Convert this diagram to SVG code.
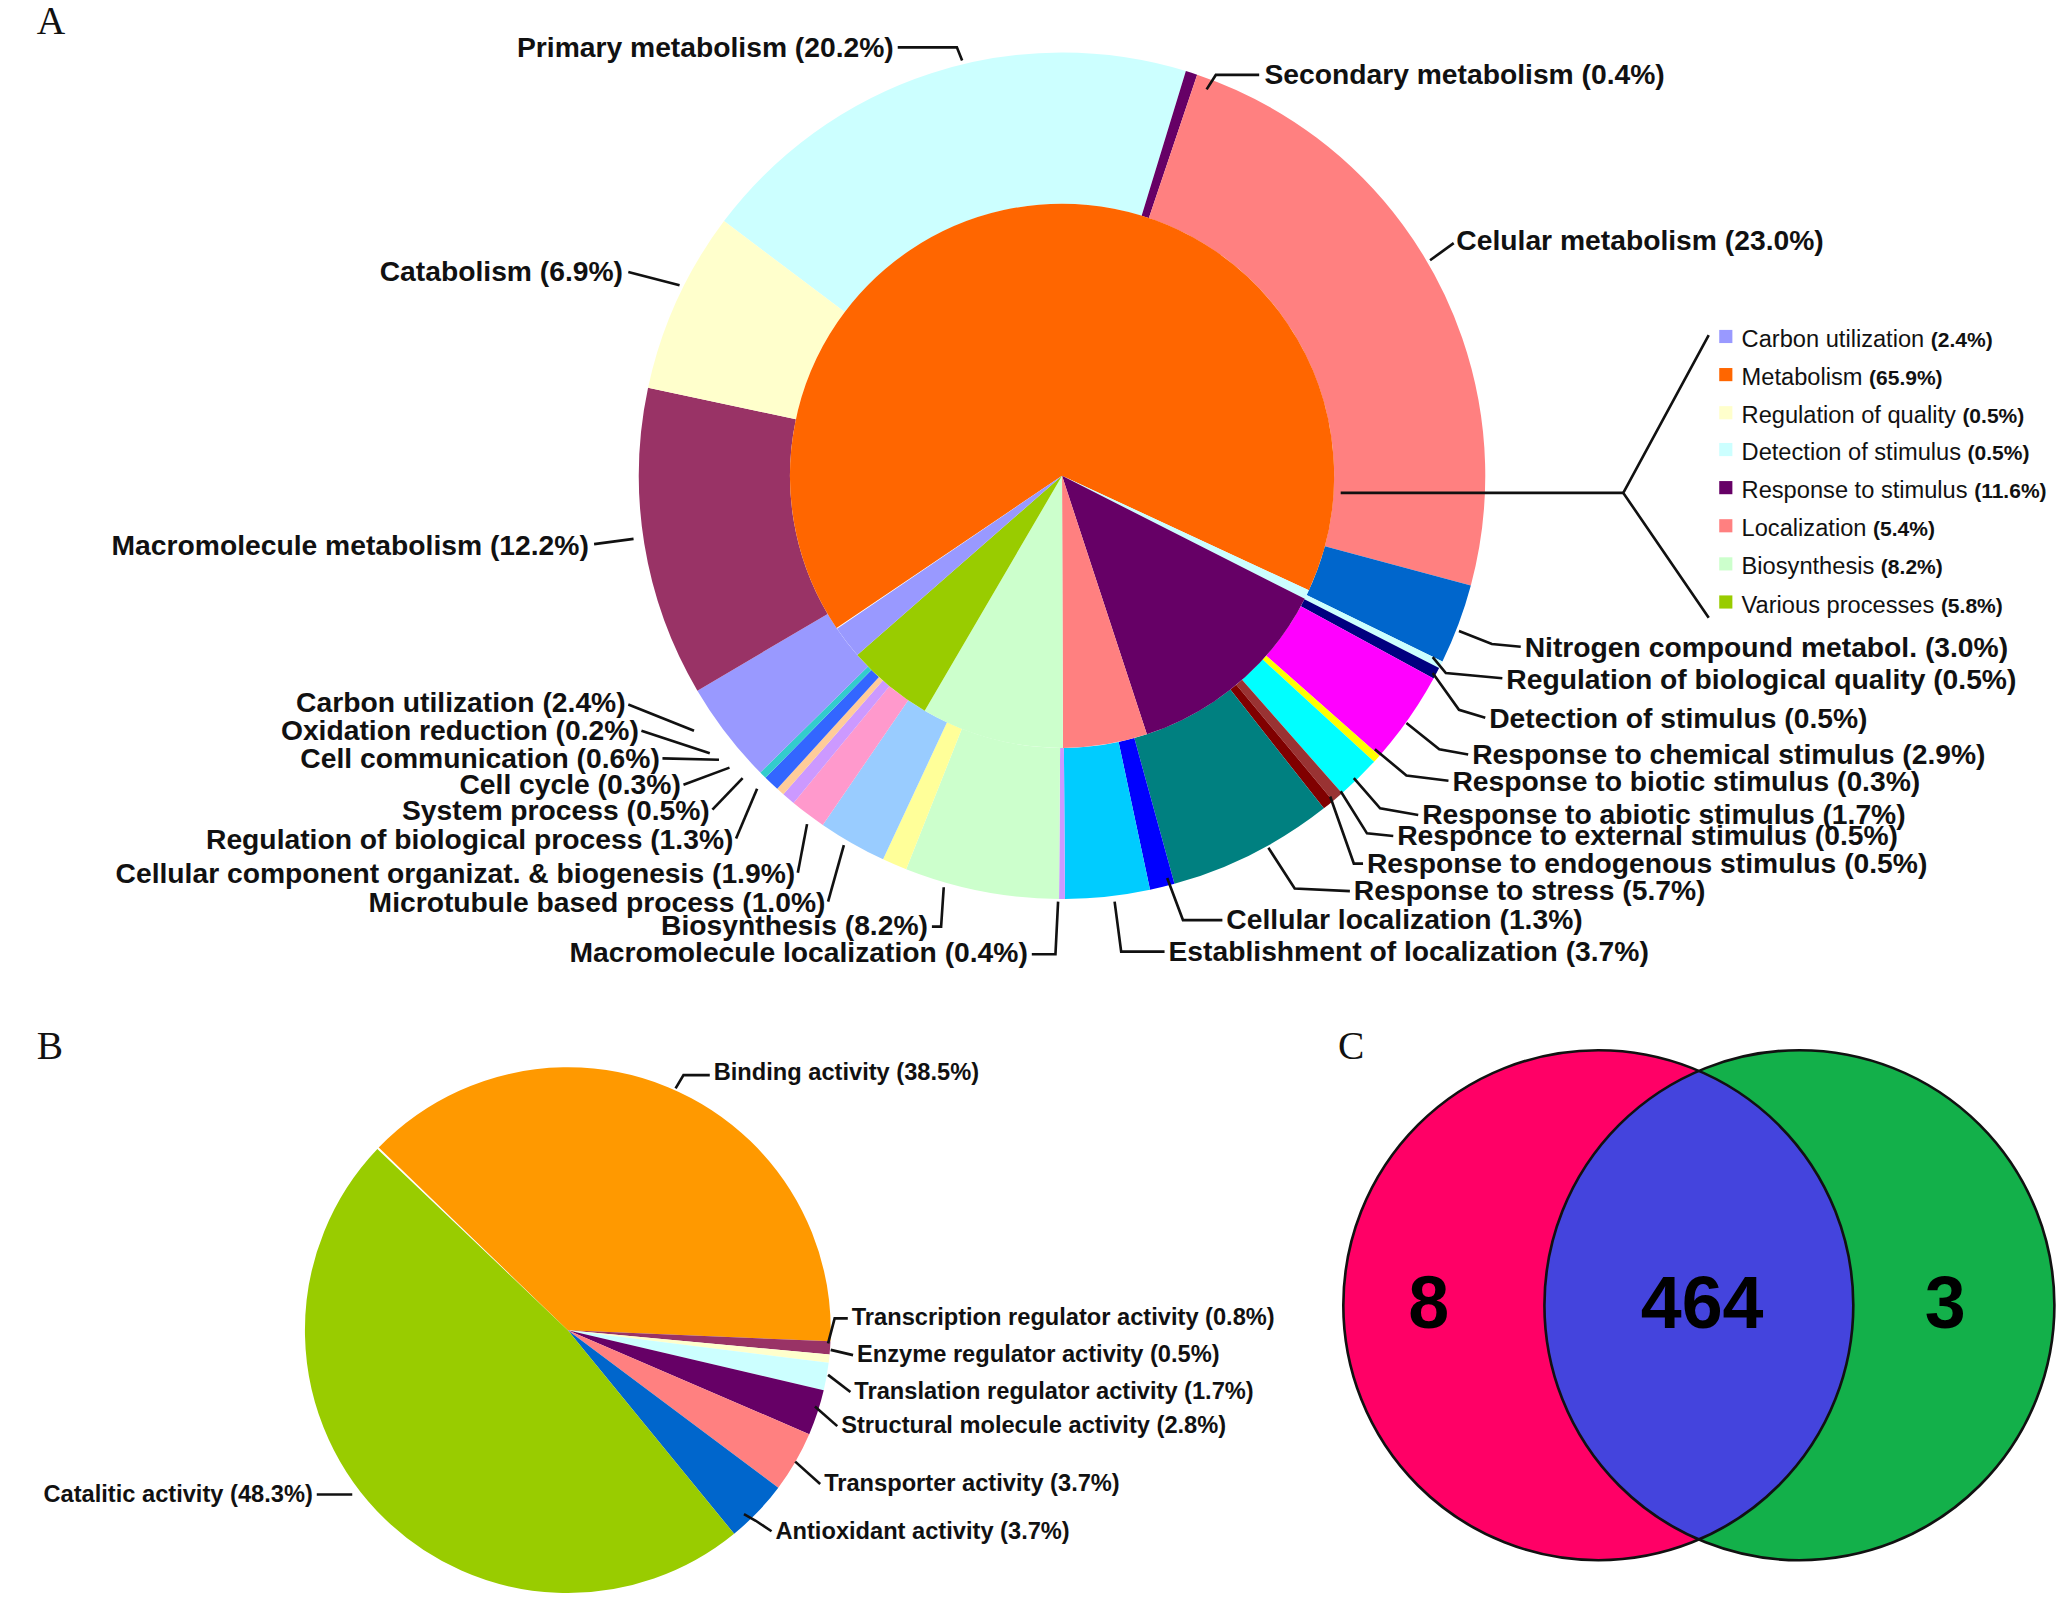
<svg xmlns="http://www.w3.org/2000/svg" width="2061" height="1598" viewBox="0 0 2061 1598">
<style>
.lb{font-family:"Liberation Sans",Arial,sans-serif;font-weight:bold;font-size:21.5px;fill:#111}
.lbb{font-family:"Liberation Sans",Arial,sans-serif;font-weight:bold;font-size:18px;fill:#111}
.lg{font-family:"Liberation Sans",Arial,sans-serif;font-size:18px;fill:#111}
.pc{font-weight:bold;font-size:16px}
.pl{font-family:"Liberation Serif","Times New Roman",serif;font-size:30px;fill:#111}
.vn{font-family:"Liberation Sans",Arial,sans-serif;font-weight:bold;font-size:56px;fill:#000}
.ld{fill:none;stroke:#111;stroke-width:2}
.ring{fill:none;stroke-width:115}
.inn{fill:none;stroke-width:207}
.pb{fill:none;stroke-width:200}
</style>
<rect width="2061" height="1598" fill="#fff"/>
<g transform="scale(1.3144)">
<text class="pl" x="28" y="26">A</text>
<text class="pl" x="28" y="806">B</text>
<text class="pl" x="1018" y="806">C</text>
<g id="outer-ring" transform="rotate(217 808 362)">
<circle class="ring" cx="808" cy="362" r="264.5" pathLength="360" stroke="#ccffff" stroke-dasharray="70 360" stroke-dashoffset="0"/>
<circle class="ring" cx="808" cy="362" r="264.5" pathLength="360" stroke="#660066" stroke-dasharray="1.6 360" stroke-dashoffset="-70"/>
<circle class="ring" cx="808" cy="362" r="264.5" pathLength="360" stroke="#ff8080" stroke-dasharray="86.4 360" stroke-dashoffset="-71.6"/>
<circle class="ring" cx="808" cy="362" r="264.5" pathLength="360" stroke="#0066cc" stroke-dasharray="11 360" stroke-dashoffset="-158"/>
<circle class="ring" cx="808" cy="362" r="264.5" pathLength="360" stroke="#ccffff" stroke-dasharray="1 360" stroke-dashoffset="-169"/>
<circle class="ring" cx="808" cy="362" r="264.5" pathLength="360" stroke="#000080" stroke-dasharray="1.6 360" stroke-dashoffset="-170"/>
<circle class="ring" cx="808" cy="362" r="264.5" pathLength="360" stroke="#ff00ff" stroke-dasharray="12.8 360" stroke-dashoffset="-171.6"/>
<circle class="ring" cx="808" cy="362" r="264.5" pathLength="360" stroke="#ffff00" stroke-dasharray="1.1 360" stroke-dashoffset="-184.4"/>
<circle class="ring" cx="808" cy="362" r="264.5" pathLength="360" stroke="#00ffff" stroke-dasharray="6.1 360" stroke-dashoffset="-185.5"/>
<circle class="ring" cx="808" cy="362" r="264.5" pathLength="360" stroke="#993333" stroke-dasharray="1.6 360" stroke-dashoffset="-191.6"/>
<circle class="ring" cx="808" cy="362" r="264.5" pathLength="360" stroke="#800000" stroke-dasharray="1.6 360" stroke-dashoffset="-193.2"/>
<circle class="ring" cx="808" cy="362" r="264.5" pathLength="360" stroke="#008080" stroke-dasharray="22.8 360" stroke-dashoffset="-194.8"/>
<circle class="ring" cx="808" cy="362" r="264.5" pathLength="360" stroke="#0000ff" stroke-dasharray="3.4 360" stroke-dashoffset="-217.6"/>
<circle class="ring" cx="808" cy="362" r="264.5" pathLength="360" stroke="#00ccff" stroke-dasharray="11.6 360" stroke-dashoffset="-221"/>
<circle class="ring" cx="808" cy="362" r="264.5" pathLength="360" stroke="#cc99ff" stroke-dasharray="0.8 360" stroke-dashoffset="-232.6"/>
<circle class="ring" cx="808" cy="362" r="264.5" pathLength="360" stroke="#ccffcc" stroke-dasharray="21.2 360" stroke-dashoffset="-233.4"/>
<circle class="ring" cx="808" cy="362" r="264.5" pathLength="360" stroke="#ffff99" stroke-dasharray="3.4 360" stroke-dashoffset="-254.6"/>
<circle class="ring" cx="808" cy="362" r="264.5" pathLength="360" stroke="#99ccff" stroke-dasharray="9.4 360" stroke-dashoffset="-258"/>
<circle class="ring" cx="808" cy="362" r="264.5" pathLength="360" stroke="#ff99cc" stroke-dasharray="5 360" stroke-dashoffset="-267.4"/>
<circle class="ring" cx="808" cy="362" r="264.5" pathLength="360" stroke="#cc99ff" stroke-dasharray="1.8 360" stroke-dashoffset="-272.4"/>
<circle class="ring" cx="808" cy="362" r="264.5" pathLength="360" stroke="#ffcc99" stroke-dasharray="1.1 360" stroke-dashoffset="-274.2"/>
<circle class="ring" cx="808" cy="362" r="264.5" pathLength="360" stroke="#3366ff" stroke-dasharray="2.2 360" stroke-dashoffset="-275.3"/>
<circle class="ring" cx="808" cy="362" r="264.5" pathLength="360" stroke="#33cccc" stroke-dasharray="1 360" stroke-dashoffset="-277.5"/>
<circle class="ring" cx="808" cy="362" r="264.5" pathLength="360" stroke="#9999ff" stroke-dasharray="14 360" stroke-dashoffset="-278.5"/>
<circle class="ring" cx="808" cy="362" r="264.5" pathLength="360" stroke="#993366" stroke-dasharray="42.5 360" stroke-dashoffset="-292.5"/>
<circle class="ring" cx="808" cy="362" r="264.5" pathLength="360" stroke="#ffffcc" stroke-dasharray="25 360" stroke-dashoffset="-335"/>
</g>
<g id="inner-pie" transform="rotate(146 808 362)">
<circle class="inn" cx="808" cy="362" r="103.5" pathLength="360" stroke="#ff6600" stroke-dasharray="239 360" stroke-dashoffset="0"/>
<circle class="inn" cx="808" cy="362" r="103.5" pathLength="360" stroke="#ccffff" stroke-dasharray="2 360" stroke-dashoffset="-239"/>
<circle class="inn" cx="808" cy="362" r="103.5" pathLength="360" stroke="#660066" stroke-dasharray="45 360" stroke-dashoffset="-241"/>
<circle class="inn" cx="808" cy="362" r="103.5" pathLength="360" stroke="#ff8080" stroke-dasharray="18 360" stroke-dashoffset="-286"/>
<circle class="inn" cx="808" cy="362" r="103.5" pathLength="360" stroke="#ccffcc" stroke-dasharray="30.5 360" stroke-dashoffset="-304"/>
<circle class="inn" cx="808" cy="362" r="103.5" pathLength="360" stroke="#99cc00" stroke-dasharray="18.5 360" stroke-dashoffset="-334.5"/>
<circle class="inn" cx="808" cy="362" r="103.5" pathLength="360" stroke="#9999ff" stroke-dasharray="7 360" stroke-dashoffset="-353"/>
</g>
<g id="legend">
<polyline class="ld" points="1020,375 1235,375"/>
<polyline class="ld" points="1300,255 1235,375 1300,470"/>
<rect x="1308" y="251" width="10" height="10" fill="#9999ff"/><text class="lg" x="1325" y="264">Carbon utilization <tspan class="pc">(2.4%)</tspan></text>
<rect x="1308" y="280" width="10" height="10" fill="#ff6600"/><text class="lg" x="1325" y="293">Metabolism <tspan class="pc">(65.9%)</tspan></text>
<rect x="1308" y="309" width="10" height="10" fill="#ffffcc"/><text class="lg" x="1325" y="322">Regulation of quality <tspan class="pc">(0.5%)</tspan></text>
<rect x="1308" y="337" width="10" height="10" fill="#ccffff"/><text class="lg" x="1325" y="350">Detection of stimulus <tspan class="pc">(0.5%)</tspan></text>
<rect x="1308" y="366" width="10" height="10" fill="#660066"/><text class="lg" x="1325" y="379">Response to stimulus <tspan class="pc">(11.6%)</tspan></text>
<rect x="1308" y="395" width="10" height="10" fill="#ff8080"/><text class="lg" x="1325" y="408">Localization <tspan class="pc">(5.4%)</tspan></text>
<rect x="1308" y="424" width="10" height="10" fill="#ccffcc"/><text class="lg" x="1325" y="437">Biosynthesis <tspan class="pc">(8.2%)</tspan></text>
<rect x="1308" y="453" width="10" height="10" fill="#99cc00"/><text class="lg" x="1325" y="466">Various processes <tspan class="pc">(5.8%)</tspan></text>
</g>
<g id="labelsA">
<text class="lb" x="680" y="43" text-anchor="end">Primary metabolism (20.2%)</text>
<text class="lb" x="962" y="64">Secondary metabolism (0.4%)</text>
<text class="lb" x="1108" y="190">Celular metabolism (23.0%)</text>
<text class="lb" x="474" y="214" text-anchor="end">Catabolism (6.9%)</text>
<text class="lb" x="448" y="422" text-anchor="end">Macromolecule metabolism (12.2%)</text>
<text class="lb" x="1160" y="500">Nitrogen compound metabol. (3.0%)</text>
<text class="lb" x="1146" y="524">Regulation of biological quality (0.5%)</text>
<text class="lb" x="1133" y="554">Detection of stimulus (0.5%)</text>
<text class="lb" x="1120" y="581">Response to chemical stimulus (2.9%)</text>
<text class="lb" x="1105" y="602">Response to biotic stimulus (0.3%)</text>
<text class="lb" x="1082" y="627">Response to abiotic stimulus (1.7%)</text>
<text class="lb" x="1063" y="643">Responce to external stimulus (0.5%)</text>
<text class="lb" x="1040" y="664">Response to endogenous stimulus (0.5%)</text>
<text class="lb" x="1030" y="685">Response to stress (5.7%)</text>
<text class="lb" x="933" y="707">Cellular localization (1.3%)</text>
<text class="lb" x="889" y="731">Establishment of localization (3.7%)</text>
<text class="lb" x="782" y="732" text-anchor="end">Macromolecule localization (0.4%)</text>
<text class="lb" x="706" y="711" text-anchor="end">Biosynthesis (8.2%)</text>
<text class="lb" x="476" y="542" text-anchor="end">Carbon utilization (2.4%)</text>
<text class="lb" x="486" y="563" text-anchor="end">Oxidation reduction (0.2%)</text>
<text class="lb" x="502" y="584" text-anchor="end">Cell communication (0.6%)</text>
<text class="lb" x="518" y="604" text-anchor="end">Cell cycle (0.3%)</text>
<text class="lb" x="540" y="624" text-anchor="end">System process (0.5%)</text>
<text class="lb" x="558" y="646" text-anchor="end">Regulation of biological process (1.3%)</text>
<text class="lb" x="605" y="672" text-anchor="end">Cellular component organizat. &amp; biogenesis (1.9%)</text>
<text class="lb" x="628" y="694" text-anchor="end">Microtubule based process (1.0%)</text>
</g>
<g id="connectorsA">
<polyline class="ld" points="683,36 728,36 732,46"/>
<polyline class="ld" points="958,57 925,57 918,68"/>
<polyline class="ld" points="1106,185 1088,198"/>
<polyline class="ld" points="478,207 517,217"/>
<polyline class="ld" points="452,414 482,410"/>
<polyline class="ld" points="1157,492 1135,490 1110,480"/>
<polyline class="ld" points="1143,516 1100,512 1090,500"/>
<polyline class="ld" points="1130,546 1110,540 1090,512"/>
<polyline class="ld" points="1117,574 1095,570 1070,550"/>
<polyline class="ld" points="1102,594 1070,590 1046,570"/>
<polyline class="ld" points="1079,620 1050,615 1030,592"/>
<polyline class="ld" points="1060,636 1040,634 1020,602"/>
<polyline class="ld" points="1037,657 1030,657 1012,606"/>
<polyline class="ld" points="1027,678 985,676 965,645"/>
<polyline class="ld" points="930,700 900,700 888,668"/>
<polyline class="ld" points="886,724 853,724 848,686"/>
<polyline class="ld" points="785,726 803,726 805,686"/>
<polyline class="ld" points="709,705 716,705 718,675"/>
<polyline class="ld" points="478,536 528,556"/>
<polyline class="ld" points="488,556 540,573"/>
<polyline class="ld" points="504,577 547,578"/>
<polyline class="ld" points="520,597 555,584"/>
<polyline class="ld" points="542,616 565,592"/>
<polyline class="ld" points="560,638 576,600"/>
<polyline class="ld" points="607,664 614,627"/>
<polyline class="ld" points="630,686 642,643"/>
</g>
<g id="pieB" transform="rotate(224 432 1012)">
<circle class="pb" cx="432" cy="1012" r="100" pathLength="360" stroke="#ff9900" stroke-dasharray="138.6 360" stroke-dashoffset="0"/>
<circle class="pb" cx="432" cy="1012" r="100" pathLength="360" stroke="#993366" stroke-dasharray="2.9 360" stroke-dashoffset="-138.6"/>
<circle class="pb" cx="432" cy="1012" r="100" pathLength="360" stroke="#ffffcc" stroke-dasharray="1.8 360" stroke-dashoffset="-141.5"/>
<circle class="pb" cx="432" cy="1012" r="100" pathLength="360" stroke="#ccffff" stroke-dasharray="6.1 360" stroke-dashoffset="-143.3"/>
<circle class="pb" cx="432" cy="1012" r="100" pathLength="360" stroke="#660066" stroke-dasharray="10.1 360" stroke-dashoffset="-149.4"/>
<circle class="pb" cx="432" cy="1012" r="100" pathLength="360" stroke="#ff8080" stroke-dasharray="13.5 360" stroke-dashoffset="-159.5"/>
<circle class="pb" cx="432" cy="1012" r="100" pathLength="360" stroke="#0066cc" stroke-dasharray="14 360" stroke-dashoffset="-173"/>
<circle class="pb" cx="432" cy="1012" r="100" pathLength="360" stroke="#99cc00" stroke-dasharray="173 360" stroke-dashoffset="-187"/>
</g>
<g id="labelsB">
<text class="lbb" x="543" y="822">Binding activity (38.5%)</text>
<text class="lbb" x="648" y="1008">Transcription regulator activity (0.8%)</text>
<text class="lbb" x="652" y="1036">Enzyme regulator activity (0.5%)</text>
<text class="lbb" x="650" y="1064">Translation regulator activity (1.7%)</text>
<text class="lbb" x="640" y="1090">Structural molecule activity (2.8%)</text>
<text class="lbb" x="627" y="1134">Transporter activity (3.7%)</text>
<text class="lbb" x="590" y="1171">Antioxidant activity (3.7%)</text>
<text class="lbb" x="238" y="1143" text-anchor="end">Catalitic activity (48.3%)</text>
</g>
<g id="connectorsB">
<polyline class="ld" points="540,818 520,818 514,828"/>
<polyline class="ld" points="645,1003 635,1003 630,1022"/>
<polyline class="ld" points="649,1031 632,1027"/>
<polyline class="ld" points="647,1059 630,1046"/>
<polyline class="ld" points="637,1085 620,1070"/>
<polyline class="ld" points="624,1129 605,1112"/>
<polyline class="ld" points="587,1165 575,1157 566,1152"/>
<polyline class="ld" points="241,1137 268,1137"/>
</g>
<g id="venn">
<defs><clipPath id="cl"><circle cx="1216" cy="993" r="194"/></clipPath></defs>
<circle cx="1216" cy="993" r="194" fill="#ff0066"/>
<circle cx="1369" cy="993" r="194" fill="#13b04a"/>
<circle cx="1369" cy="993" r="194" fill="#4444dd" clip-path="url(#cl)"/>
<circle cx="1216" cy="993" r="194" fill="none" stroke="#111" stroke-width="2"/>
<circle cx="1369" cy="993" r="194" fill="none" stroke="#111" stroke-width="2"/>
<text class="vn" x="1087" y="1010" text-anchor="middle">8</text>
<text class="vn" x="1295" y="1010" text-anchor="middle">464</text>
<text class="vn" x="1480" y="1010" text-anchor="middle">3</text>
</g>
</g>
</svg>
